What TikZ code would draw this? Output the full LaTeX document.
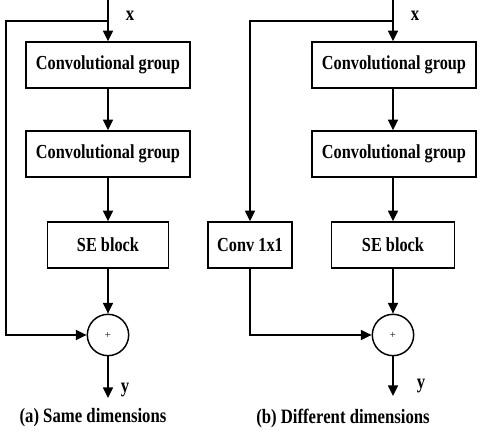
\documentclass[tikz,border=0pt]{standalone}
\usepackage{fontspec}
\setmainfont{Liberation Serif}
\newfontfamily\narrowserif[FakeStretch=0.82]{Liberation Serif}
\usetikzlibrary{calc}
\usetikzlibrary{positioning}
\usetikzlibrary{arrows.meta}

\begin{document}
\begin{tikzpicture}[x=0.75pt, y=-0.75pt,
    box/.style={rectangle, draw=black, line width=1.1pt, minimum height=34.5pt, inner sep=0pt, font=\narrowserif\bfseries\fontsize{14.9}{17}\selectfont},
    sum/.style={circle, draw=black, line width=1.1pt, minimum size=31pt, inner sep=0pt, font=\fontsize{8}{9}\selectfont},
    link/.style={line width=1.1pt, -{Triangle[width=7.5pt,length=8pt]}},
    lbl/.style={font=\narrowserif\bfseries\fontsize{15.3}{18}\selectfont}]
  \useasboundingbox (0,0) rectangle (480,434);

  % (a) same dimensions
  \coordinate (inA) at (108,0);
  \node[box, minimum width=123pt] (convA1) at (108,65) {Convolutional group};
  \node[box, minimum width=123pt] (convA2) at (108,154) {Convolutional group};
  \node[box, minimum width=91pt] (seA) at (108,245) {SE block};
  \node[sum] (plusA) at (108,335) {+};
  \coordinate (outA) at (108,398);
  \coordinate (brA) at (108,21);
  \draw[link] (inA) -- (convA1.north);
  \draw[link] (convA1) -- (convA2);
  \draw[link] (convA2) -- (seA);
  \draw[link] (seA) -- (plusA);
  \draw[link] (brA) -- ++(-102,0) |- (plusA.west);
  \draw[link] (plusA) -- (outA);
  \node[lbl] at (130,16) {x};
  \node[lbl] at (125,390) {y};
  \node[lbl] at (93,418) {(a) Same dimensions};

  % (b) different dimensions
  \coordinate (inB) at (393,0);
  \node[box, minimum width=123pt] (convB1) at (394,65) {Convolutional group};
  \node[box, minimum width=123pt] (convB2) at (394,154) {Convolutional group};
  \node[box, minimum width=92pt] (seB) at (393,245) {SE block};
  \node[box, minimum width=63pt] (proj) at (250,245) {Conv 1x1};
  \node[sum] (plusB) at (393,335) {+};
  \coordinate (outB) at (393,396);
  \coordinate (brB) at (393,21);
  \draw[link] (inB) -- (inB |- convB1.north);
  \draw[link] (inB |- convB1.south) -- (inB |- convB2.north);
  \draw[link] (inB |- convB2.south) -- (seB);
  \draw[link] (seB) -- (plusB);
  \draw[link] (brB) -| (proj.north);
  \draw[link] (proj.south) |- (plusB.west);
  \draw[link] (plusB) -- (outB);
  \node[lbl] at (415,16) {x};
  \node[lbl] at (421,386) {y};
  \node[lbl] at (343,418) {(b) Different dimensions};
\end{tikzpicture}
\end{document}
